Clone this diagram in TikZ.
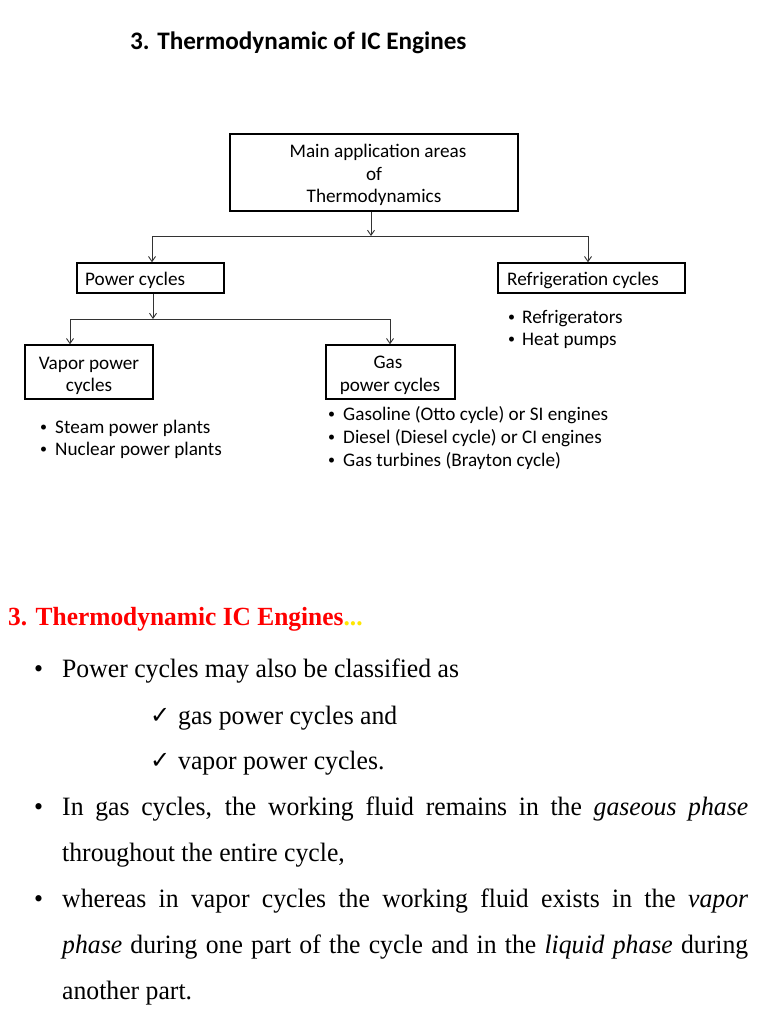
\documentclass[tikz,border=0pt]{standalone}
\usepackage{fontspec}
\setmainfont{Carlito}
\newfontfamily\tnr[FakeStretch=0.97]{Liberation Serif}
\newfontfamily\djv{DejaVu Sans}
\usetikzlibrary{arrows.meta}
\definecolor{ttlred}{RGB}{255,0,0}
\definecolor{dotyel}{RGB}{255,230,0}
\newcommand{\smbul}[1]{\makebox[#1][l]{\hspace{1pt}\raisebox{1.5pt}{\fontsize{14}{14}\selectfont •}}}
\begin{document}
\begin{tikzpicture}[x=1pt,y=-1pt,
  box/.style={draw=black,line width=1.5pt,inner sep=0pt},
  conn/.style={draw=black!80,line width=0.9pt},
  arr/.style={conn,-{Straight Barb[length=5pt,width=7pt]}},
  lbl/.style={inner sep=0pt,anchor=base,font=\fontsize{19.2}{23}\selectfont},
  lbw/.style={inner sep=0pt,anchor=base west,font=\fontsize{19.2}{23}\selectfont},
  body/.style={inner sep=0pt,anchor=base west,font=\tnr\fontsize{26.5}{46}\selectfont},
  chk/.style={inner sep=0pt,anchor=base west,font=\djv\fontsize{24}{26}\selectfont},
]
\useasboundingbox (0,0) rectangle (768,1024);
\fill[white] (0,0) rectangle (768,1024);
% title
\node[inner sep=0pt,anchor=base west,font=\bfseries\fontsize{25.2}{30}\selectfont] (title) at (130,50) {3. Thermodynamic of IC Engines};
% boxes
\node[box,minimum width=288pt,minimum height=77pt] (main) at (374,172.5) {};
\node[lbl] (m1) at (378,158) {Main application areas};
\node[lbl] (m2) at (374,181) {of};
\node[lbl] (m3) at (374,203) {Thermodynamics};
\node[box,minimum width=147pt,minimum height=30pt] (pow) at (150.5,278) {};
\node[lbw] (powt) at (85,285) {Power cycles};
\node[box,minimum width=187pt,minimum height=30pt] (ref) at (591.5,278) {};
\node[lbw] (reft) at (507,285) {Refrigeration cycles};
\node[box,minimum width=128pt,minimum height=54pt] (vap) at (89,372) {};
\node[lbl] (v1) at (89,369) {Vapor power};
\node[lbl] (v2) at (89,391) {cycles};
\node[box,minimum width=129pt,minimum height=54pt] (gas) at (390.5,372) {};
\node[lbl] (g1) at (388,368) {Gas};
\node[lbl] (g2) at (390,391) {power cycles};
% connectors
\coordinate (jl) at (152,236);
\coordinate (jr) at (588,236);
\coordinate (kl) at (70,319);
\coordinate (kr) at (390,319);
\draw[arr] (main.south -| 371,0) -- (371,236);
\draw[conn] (jl) -- (jr);
\draw[arr] (jl) -- (jl |- pow.north);
\draw[arr] (jr) -- (jr |- ref.north);
\draw[arr] (pow.south -| 153,0) -- (153,319);
\draw[conn] (kl) -- (kr);
\draw[arr] (kl) -- (kl |- vap.north);
\draw[arr] (kr) -- (kr |- gas.north);
% bullet lists
\node[lbw] (r1) at (507,323) {\smbul{15pt}Refrigerators};
\node[lbw] (r2) at (507,345) {\smbul{15pt}Heat pumps};
\node[lbw] (s1) at (39,433) {\smbul{16pt}Steam power plants};
\node[lbw] (s2) at (39,455) {\smbul{16pt}Nuclear power plants};
\node[lbw] (t1) at (327,420) {\smbul{16pt}Gasoline (Otto cycle) or SI engines};
\node[lbw] (t2) at (327,443) {\smbul{16pt}Diesel (Diesel cycle) or CI engines};
\node[lbw] (t3) at (327,466) {\smbul{16pt}Gas turbines (Brayton cycle)};
% bottom part
\node[inner sep=0pt,anchor=base west,font=\tnr\bfseries\fontsize{26.2}{30}\selectfont] (rt) at (8,625) {\textcolor{ttlred}{3. Thermodynamic IC Engines}\textcolor{dotyel}{...}};
\node[body] (b1) at (34,677) {•};
\node[body] (l1) at (62,677) {Power cycles may also be classified as};
\node[chk] (c1) at (150,723) {✓};
\node[body] (l2) at (178,724) {gas power cycles and};
\node[chk] (c2) at (150,768) {✓};
\node[body] (l3) at (178,769) {vapor power cycles.};
\node[body] (b2) at (34,815) {•};
\node[body] (l4) at (62,815) {\makebox[686pt][s]{In gas cycles, the working fluid remains in the \textit{gaseous phase}}};
\node[body] (l5) at (62,861) {throughout the entire cycle,};
\node[body] (b3) at (34,907) {•};
\node[body] (l6) at (62,907) {\makebox[686pt][s]{whereas in vapor cycles the working fluid exists in the \textit{vapor}}};
\node[body] (l7) at (62,953) {\makebox[686pt][s]{\textit{phase} during one part of the cycle and in the \textit{liquid phase} during}};
\node[body] (l8) at (62,999) {another part.};
\end{tikzpicture}
\end{document}
